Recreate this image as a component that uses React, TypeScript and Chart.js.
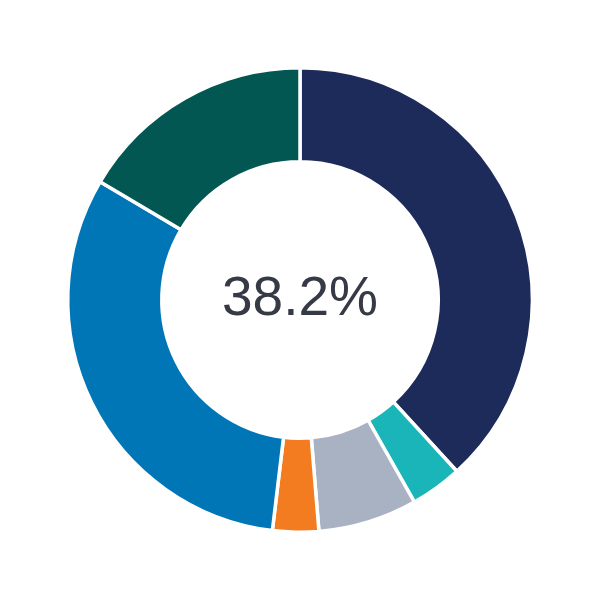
import React, { useEffect, useRef } from "react";
import { Chart, registerables, type Plugin } from "chart.js";

Chart.register(...registerables);

const labels = ["Navy", "Teal", "Gray", "Orange", "Blue", "Green"];
const shares = [38.2, 3.6, 6.9, 3.2, 31.6, 16.5];
const colors = ["#1d2b5b", "#1ab5b8", "#a8b2c2", "#f47c20", "#0076b6", "#035752"];
const centerLabel = "38.2%";

const centerText: Plugin<"doughnut"> = {
  id: "centerText",
  afterDraw(chart) {
    const { ctx, chartArea } = chart;
    const cx = (chartArea.left + chartArea.right) / 2;
    const cy = (chartArea.top + chartArea.bottom) / 2;
    ctx.save();
    ctx.font = "55px 'Liberation Sans', Arial, sans-serif";
    ctx.fillStyle = "#353a46";
    ctx.textAlign = "center";
    ctx.textBaseline = "alphabetic";
    ctx.fillText(centerLabel, cx, cy + 15);
    ctx.restore();
  },
};

const App: React.FC = () => {
  const canvasRef = useRef<HTMLCanvasElement>(null);

  useEffect(() => {
    if (!canvasRef.current) return;
    const chart = new Chart(canvasRef.current, {
      type: "doughnut",
      data: {
        labels,
        datasets: [
          {
            data: shares,
            backgroundColor: colors,
            borderColor: "#ffffff",
            borderWidth: 3.5,
          },
        ],
      },
      options: {
        animation: false,
        responsive: true,
        maintainAspectRatio: false,
        cutout: "59.5%",
        layout: { padding: 58 },
        plugins: {
          legend: { display: false },
          tooltip: { enabled: false },
        },
      },
      plugins: [centerText],
    });
    return () => chart.destroy();
  }, []);

  return (
    <div style={{ width: 584, height: 584 }}>
      <canvas ref={canvasRef} />
    </div>
  );
};

export default App;
